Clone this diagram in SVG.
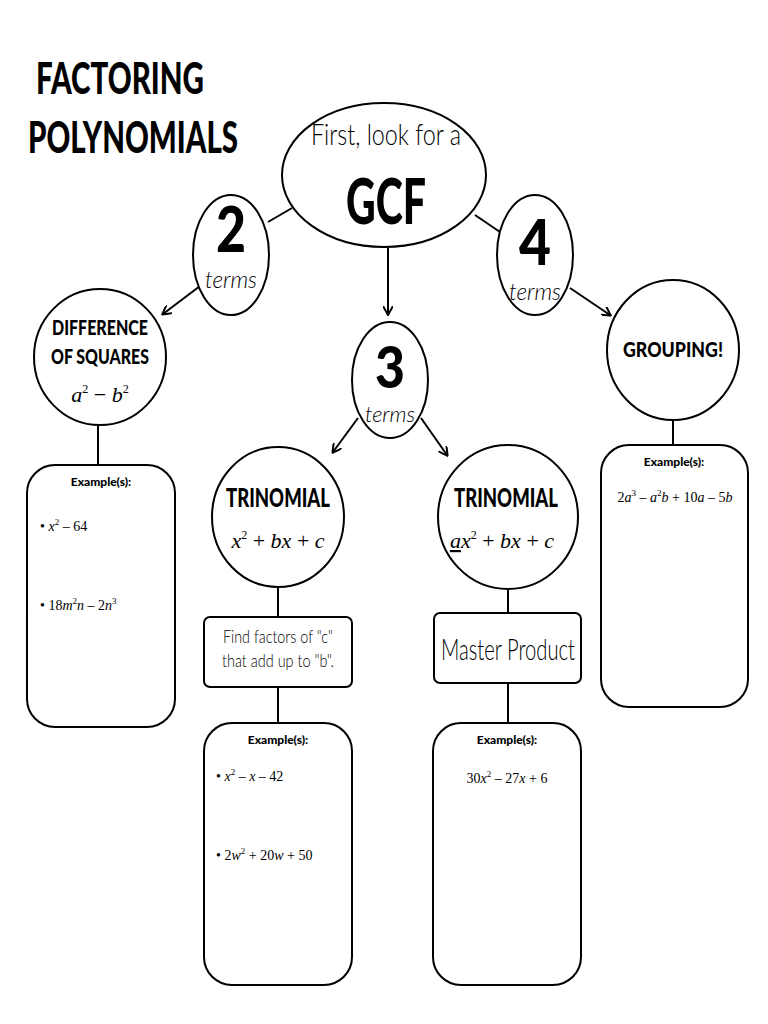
<svg xmlns="http://www.w3.org/2000/svg" width="768" height="1024" viewBox="0 0 768 1024">
<defs>
<marker id="ah" markerWidth="10" markerHeight="10" refX="8" refY="5" orient="auto" markerUnits="userSpaceOnUse"><path d="M0,0 L9,5 L0,10" fill="none" stroke="#000" stroke-width="2"/></marker>
<style>
.n{fill:#fff;stroke:#000;stroke-width:2}
.c{stroke:#000;stroke-width:2;fill:none}
.b{font-family:Lato,"Liberation Sans",sans-serif;font-weight:900;text-anchor:middle;fill:#000}
.h{font-family:Lato,"Open Sans",sans-serif;font-weight:300;text-anchor:middle;fill:#000}
.m{font-family:"Liberation Serif",serif;fill:#000}
.mi{font-family:"Liberation Serif",serif;font-style:italic}
</style>
</defs>
<rect width="768" height="1024" fill="#fff"/>
<g id="title">
<text class="b" x="120" y="94" font-size="44" textLength="168" lengthAdjust="spacingAndGlyphs">FACTORING</text>
<text class="b" x="133" y="153" font-size="44" textLength="210" lengthAdjust="spacingAndGlyphs">POLYNOMIALS</text>
</g>
<g id="connectors">
<line class="c" x1="268" y1="222" x2="292" y2="208"/>
<line class="c" x1="475" y1="215" x2="500" y2="232"/>
<line class="c" x1="388" y1="248" x2="388" y2="314" marker-end="url(#ah)"/>
<line class="c" x1="200" y1="286" x2="163" y2="314" marker-end="url(#ah)"/>
<line class="c" x1="570" y1="288" x2="610" y2="315" marker-end="url(#ah)"/>
<line class="c" x1="358" y1="418" x2="333" y2="452" marker-end="url(#ah)"/>
<line class="c" x1="421" y1="418" x2="447" y2="455" marker-end="url(#ah)"/>
<line class="c" x1="98" y1="425" x2="98" y2="465"/>
<line class="c" x1="673" y1="420" x2="673" y2="445"/>
<line class="c" x1="278" y1="587" x2="278" y2="617"/>
<line class="c" x1="278" y1="687" x2="278" y2="723"/>
<line class="c" x1="508" y1="589" x2="508" y2="613"/>
<line class="c" x1="508" y1="683" x2="508" y2="723"/>
</g>
<g id="gcf">
<ellipse class="n" cx="384" cy="175" rx="102" ry="72"/>
<text class="h" x="386" y="145" font-size="30" textLength="150" lengthAdjust="spacingAndGlyphs">First, look for a</text>
<text class="b" x="386" y="224" font-size="62" textLength="80" lengthAdjust="spacingAndGlyphs">GCF</text>
</g>
<g id="two">
<ellipse class="n" cx="231" cy="255" rx="38" ry="60"/>
<text class="b" x="231" y="252" font-size="62" textLength="30" lengthAdjust="spacingAndGlyphs">2</text>
<text class="h" x="231" y="288" font-size="24" font-style="italic" textLength="52" lengthAdjust="spacingAndGlyphs">terms</text>
</g>
<g id="four">
<ellipse class="n" cx="535" cy="255" rx="38" ry="60"/>
<text class="b" x="535" y="265" font-size="62" textLength="32" lengthAdjust="spacingAndGlyphs">4</text>
<text class="h" x="535" y="300" font-size="24" font-style="italic" textLength="52" lengthAdjust="spacingAndGlyphs">terms</text>
</g>
<g id="three">
<ellipse class="n" cx="390" cy="380" rx="38" ry="58"/>
<text class="b" x="390" y="388" font-size="58" textLength="30" lengthAdjust="spacingAndGlyphs">3</text>
<text class="h" x="390" y="422" font-size="22" font-style="italic" textLength="50" lengthAdjust="spacingAndGlyphs">terms</text>
</g>
<g id="diff">
<ellipse class="n" cx="100" cy="357" rx="66" ry="68"/>
<text class="b" x="100" y="335" font-size="21" textLength="96" lengthAdjust="spacingAndGlyphs">DIFFERENCE</text>
<text class="b" x="100" y="364" font-size="21" textLength="98" lengthAdjust="spacingAndGlyphs">OF SQUARES</text>
<text class="m" x="100" y="402" font-size="22" text-anchor="middle"><tspan class="mi">a</tspan><tspan font-size="12" dy="-9">2</tspan><tspan dy="9"> − </tspan><tspan class="mi">b</tspan><tspan font-size="12" dy="-9">2</tspan></text>
</g>
<g id="grouping">
<ellipse class="n" cx="673" cy="350" rx="66" ry="70"/>
<text class="b" x="673" y="357" font-size="21" textLength="100" lengthAdjust="spacingAndGlyphs">GROUPING!</text>
</g>
<g id="tri1">
<ellipse class="n" cx="278" cy="517" rx="66" ry="70"/>
<text class="b" x="278" y="507" font-size="26" textLength="104" lengthAdjust="spacingAndGlyphs">TRINOMIAL</text>
<text class="m" x="278" y="548" font-size="22" text-anchor="middle"><tspan class="mi">x</tspan><tspan font-size="12" dy="-9">2</tspan><tspan dy="9"> + </tspan><tspan class="mi">bx</tspan> + <tspan class="mi">c</tspan></text>
</g>
<g id="tri2">
<ellipse class="n" cx="508" cy="517" rx="70" ry="72"/>
<text class="b" x="506" y="507" font-size="26" textLength="104" lengthAdjust="spacingAndGlyphs">TRINOMIAL</text>
<text class="m" x="502" y="548" font-size="22" text-anchor="middle"><tspan class="mi" text-decoration="underline">a</tspan><tspan class="mi">x</tspan><tspan font-size="12" dy="-9">2</tspan><tspan dy="9"> + </tspan><tspan class="mi">bx</tspan> + <tspan class="mi">c</tspan></text>
</g>
<g id="find">
<rect class="n" x="204" y="617" width="148" height="70" rx="6"/>
<text class="h" x="278" y="643" font-size="17" textLength="110" lengthAdjust="spacingAndGlyphs">Find factors of "c"</text>
<text class="h" x="278" y="667" font-size="17" textLength="112" lengthAdjust="spacingAndGlyphs">that add up to "b".</text>
</g>
<g id="master">
<rect class="n" x="434" y="613" width="147" height="70" rx="6"/>
<text class="h" x="508" y="660" font-size="29" textLength="134" lengthAdjust="spacingAndGlyphs">Master Product</text>
</g>
<g id="ex1">
<rect class="n" x="27" y="465" width="148" height="262" rx="28"/>
<text class="b" x="101" y="486" font-size="12">Example(s):</text>
<text class="m" x="40" y="531" font-size="14">•   <tspan class="mi">x</tspan><tspan font-size="9" dy="-6">2</tspan><tspan dy="6"> – 64</tspan></text>
<text class="m" x="40" y="610" font-size="14">•   18<tspan class="mi">m</tspan><tspan font-size="9" dy="-6">2</tspan><tspan dy="6" class="mi">n</tspan> – 2<tspan class="mi">n</tspan><tspan font-size="9" dy="-6">3</tspan></text>
</g>
<g id="ex4">
<rect class="n" x="601" y="445" width="147" height="262" rx="28"/>
<text class="b" x="674" y="466" font-size="12">Example(s):</text>
<text class="m" x="675" y="502" font-size="14" text-anchor="middle">2<tspan class="mi">a</tspan><tspan font-size="9" dy="-6">3</tspan><tspan dy="6"> – </tspan><tspan class="mi">a</tspan><tspan font-size="9" dy="-6">2</tspan><tspan dy="6" class="mi">b</tspan> + 10<tspan class="mi">a</tspan> – 5<tspan class="mi">b</tspan></text>
</g>
<g id="ex2">
<rect class="n" x="204" y="723" width="148" height="262" rx="28"/>
<text class="b" x="278" y="744" font-size="12">Example(s):</text>
<text class="m" x="216" y="781" font-size="14">•   <tspan class="mi">x</tspan><tspan font-size="9" dy="-6">2</tspan><tspan dy="6"> – </tspan><tspan class="mi">x</tspan> – 42</text>
<text class="m" x="216" y="860" font-size="14">•   2<tspan class="mi">w</tspan><tspan font-size="9" dy="-6">2</tspan><tspan dy="6"> + 20</tspan><tspan class="mi">w</tspan> + 50</text>
</g>
<g id="ex3">
<rect class="n" x="433" y="723" width="148" height="262" rx="28"/>
<text class="b" x="507" y="744" font-size="12">Example(s):</text>
<text class="m" x="507" y="783" font-size="14" text-anchor="middle">30<tspan class="mi">x</tspan><tspan font-size="9" dy="-6">2</tspan><tspan dy="6"> – 27</tspan><tspan class="mi">x</tspan> + 6</text>
</g>
</svg>
